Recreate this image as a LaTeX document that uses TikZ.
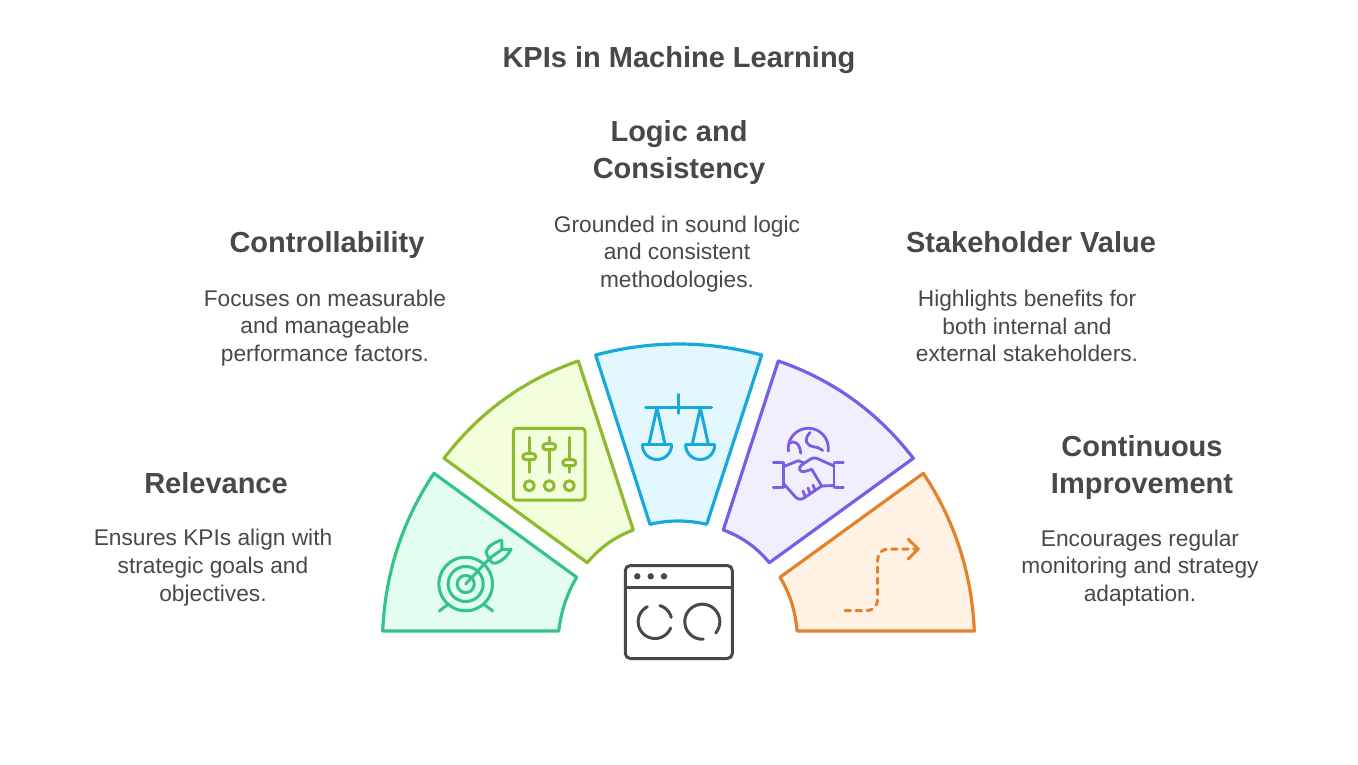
\documentclass[tikz,border=0pt]{standalone}
\usepackage{fontspec}
\setmainfont{Liberation Sans}
\definecolor{ink}{HTML}{484848}
\definecolor{grS}{HTML}{33C48A}\definecolor{grF}{HTML}{E3FDF0}
\definecolor{liS}{HTML}{8DBA2E}\definecolor{liF}{HTML}{F3FEDD}
\definecolor{blS}{HTML}{17A9DC}\definecolor{blF}{HTML}{E3F7FF}
\definecolor{puS}{HTML}{7B5CE6}\definecolor{puF}{HTML}{F1EFFE}
\definecolor{orS}{HTML}{E3822A}\definecolor{orF}{HTML}{FFF1E3}
\tikzset{
  x=1pt,y=-1pt,
  sector/.style={line width=3.2pt,line join=round},
  icon/.style={line width=3pt,line cap=round,line join=round},
  heading/.style={font=\bfseries\fontsize{29}{37}\selectfont,text=ink,align=center,inner sep=0pt},
  body/.style={font=\fontsize{22.7}{27.7}\selectfont,text=ink,align=center,inner sep=0pt}
}
% quadratic curve as a cubic: from current point p0 via q to p3
\newcommand{\qcurve}[6]{.. controls ({#1+2/3*(#3-#1)},{#2+2/3*(#4-#2)}) and ({#5+2/3*(#3-#5)},{#6+2/3*(#4-#6)}) .. (#5,#6)}
\newcommand{\ringarc}[6][]{\draw[#1] plot[domain=#5:#6,samples=50,smooth] ({#2+#4*cos(\x)},{#3-#4*sin(\x)});}
\begin{document}
\begin{tikzpicture}
\useasboundingbox (0,0) rectangle (1358,765);
\fill[white] (0,0) rectangle (1358,765);
% sectors
\draw[sector,draw=grS,fill=grF] (382.7,631) \qcurve{382.7}{631}{386.45}{544.45}{434}{473.3} -- (576.7,577.3) \qcurve{576.7}{577.3}{562.3}{601.25}{558.7}{631} -- cycle;
\draw[sector,draw=liS,fill=liF] (444,458.3) \qcurve{444}{458.3}{496.85}{389.15}{578.3}{361} -- (633.3,530) \qcurve{633.3}{530}{606.1}{540.05}{587.3}{562.7} -- cycle;
\draw[sector,draw=blS,fill=blF] (595.7,355) \qcurve{595.7}{355}{678.6}{333}{761.7}{355} -- (706.7,524.3) \qcurve{706.7}{524.3}{678.4}{517.7}{650}{524.3} -- cycle;
\draw[sector,draw=puS,fill=puF] (778.3,361) \qcurve{778.3}{361}{860.15}{389.15}{913.3}{458.3} -- (769.3,562.7) \qcurve{769.3}{562.7}{750.9}{540.05}{723.3}{530} -- cycle;
\draw[sector,draw=orS,fill=orF] (923.3,473.3) \qcurve{923.3}{473.3}{970.55}{544.45}{974.3}{631} -- (797,631) \qcurve{797}{631}{794.7}{601.25}{780}{577.3} -- cycle;
% target icon
\begin{scope}[icon,draw=grS]
\ringarc{465.7}{584}{26.8}{62}{-328}
\ringarc{465.7}{584}{17.5}{62}{-328}
\ringarc{465.7}{584}{8.5}{62}{-328}
\draw (465.7,584) -- (490,558);
\draw (447.3,605) -- (439.3,611);
\draw (485,605) -- (492.7,611);
\draw (501.7,540) .. controls (492,543) and (484,549) .. (487,555) .. controls (488,557) and (489,558.5) .. (490,558.5) .. controls (490,562) and (493,564) .. (496,563) .. controls (503,561) and (508,555) .. (511,549.3) -- (502,549.5) -- (501.7,540);
\draw (490,558) -- (502,549.5);
\end{scope}
% sliders icon
\begin{scope}[icon,draw=liS]
\draw[rounded corners=3pt] (513.3,428.3) rectangle (585,500);
\draw (529.3,437.3) -- (529.3,472.3);
\draw (549.3,437.3) -- (549.3,472.3);
\draw (569.3,437.3) -- (569.3,472.3);
\draw[fill=liF,rounded corners=3pt] (522.8,453.7) rectangle (535.8,459.7);
\draw[fill=liF,rounded corners=3pt] (542.8,443.7) rectangle (555.8,449.7);
\draw[fill=liF,rounded corners=3pt] (562.8,459.7) rectangle (575.8,465.7);
\draw (529.3,485.7) circle[radius=5];
\draw (549.3,485.7) circle[radius=5];
\draw (569.3,485.7) circle[radius=5];
\end{scope}
% scales icon
\begin{scope}[icon,draw=blS]
\draw (645.7,407.3) -- (711.7,407.3);
\draw (678.3,394.3) -- (678.3,413.3);
\draw (649,444) -- (657,408) -- (665,444);
\draw (692.3,444) -- (700.3,408) -- (708.3,444);
\draw (642.5,444.5) -- (671.5,444.5);
\draw (685.7,444.5) -- (714.7,444.5);
\ringarc{657}{445}{14.5}{180}{360}
\ringarc{700.2}{445}{14.5}{180}{360}
\end{scope}
% handshake icon
\begin{scope}[icon,draw=puS,line width=2.8pt]
\ringarc{808.3}{448.3}{20}{-8}{188}
\draw (789.5,443) .. controls (794,440) and (800,443) .. (800.7,453.3);
\draw (810,432.5) .. controls (803,440) and (807,446) .. (813.3,446.7) .. controls (817,447) and (820,448) .. (822.7,450.5);
\draw (773.3,462.3) -- (781.7,462.3) (773.3,487.7) -- (781.7,487.7);
\draw (783.3,462.3) -- (783.3,487.7);
\draw (835.5,462.3) -- (843.3,462.3) (835.5,487.7) -- (843.3,487.7);
\draw (834,462.3) -- (834,487.7);
\draw (783.3,466.7) -- (798.3,460.7) -- (804,463);
\draw (834,466) -- (816.7,458.3) .. controls (813,457.5) and (811,458.5) .. (809,460) -- (801,465.5) .. controls (798,468) and (800,472.5) .. (804,471.7) -- (811.7,469.3) -- (821.7,486) -- (834,485.5);
\draw (783.3,483.3) -- (795.5,497) .. controls (798,499.5) and (801,500) .. (804,498) -- (821.7,486);
\draw (803,491) -- (805,496) (808,488) -- (810,493) (813,485) -- (815,490);
\end{scope}
% browser icon
\begin{scope}[line width=3pt,line cap=round,line join=round,draw=ink]
\draw[rounded corners=5pt] (625.3,565.5) rectangle (732.3,658.5);
\draw (625.3,587.3) -- (732.3,587.3);
\fill[ink] (637.3,576.3) circle[radius=3.2] (650.7,576.3) circle[radius=3.2] (664,576.3) circle[radius=3.2];
\ringarc{655}{621.7}{16.8}{-22}{-243}
\ringarc{655}{621.7}{16.8}{15}{73}
\ringarc{702.3}{621.7}{17.5}{-87}{-400}
\end{scope}
% arrow icon
\draw[icon,draw=orS,dashed,dash pattern=on 5.5pt off 5.5pt] (845,610.7) -- (866,610.7) .. controls (873,610.7) and (877.7,606) .. (877.7,599) -- (877.7,560) .. controls (877.7,553) and (882,549) .. (889,549) -- (916,549);
\draw[icon,draw=orS] (908.3,539.3) -- (918.3,549) -- (908.3,559);
% texts
\node[heading] (title) at (679,60) {KPIs in Machine Learning};
\node[heading] (logicH) at (679,152.5) {Logic and\\Consistency};
\node[body] (logicB) at (677,254) {Grounded in sound logic\\and consistent\\methodologies.};
\node[heading] (ctrlH) at (327,245) {Controllability};
\node[body] (ctrlB) at (325,328) {Focuses on measurable\\and manageable\\performance factors.};
\node[heading] (stakeH) at (1031,242) {Stakeholder Value};
\node[body] (stakeB) at (1027,326) {Highlights benefits for\\both internal and\\external stakeholders.};
\node[heading] (relH) at (216,483) {Relevance};
\node[body] (relB) at (213,567.5) {Ensures KPIs align with\\strategic goals and\\objectives.};
\node[heading] (contH) at (1142,467.5) {Continuous\\Improvement};
\node[body] (contB) at (1140,568) {Encourages regular\\monitoring and strategy\\adaptation.};
\end{tikzpicture}
\end{document}
